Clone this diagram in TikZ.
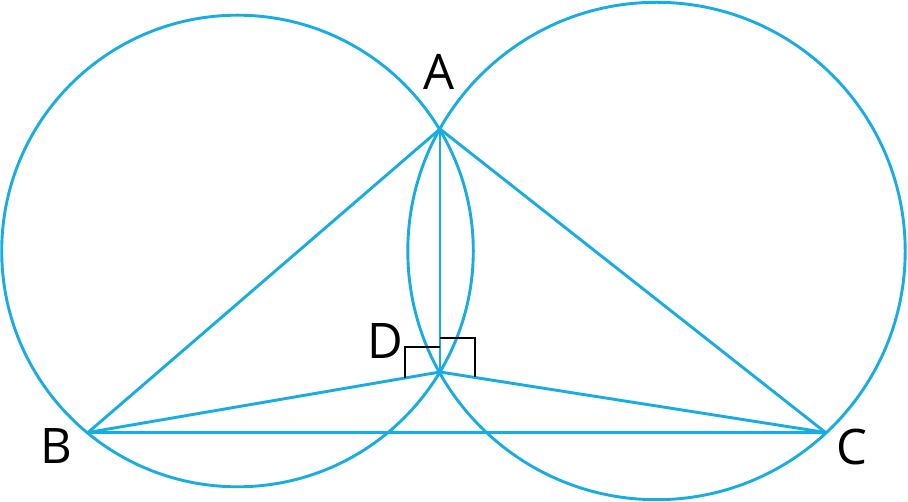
\documentclass[tikz,border=0pt]{standalone}
\usepackage{fontspec}
\setmainfont{Open Sans}
\definecolor{geo}{RGB}{24,172,226}
\begin{document}
\begin{tikzpicture}[x=1pt,y=-1pt,
  geoline/.style={draw=geo,line width=2.9pt},
  rightmark/.style={draw=black,line width=2.8pt,line join=miter},
  ptlabel/.style={font=\fontsize{49}{49}\selectfont,text=black,inner sep=0pt}]
\useasboundingbox (0,0) rectangle (908,502);
% points
\coordinate (A) at (440,129);
\coordinate (B) at (88,432.5);
\coordinate (C) at (825.5,432.5);
\coordinate (D) at (440,372);
\coordinate (O1) at (237.5,251);
\coordinate (O2) at (656.5,251);
% circles
\draw[geoline] (O1) circle[radius=235.8];
\draw[geoline] (O2) circle[radius=248.7];
% segments
\draw[geoline] (A) -- (B);
\draw[geoline] (A) -- (C);
\draw[geoline] (A) -- (D);
\draw[geoline] (D) -- (B);
\draw[geoline] (D) -- (C);
\draw[geoline] (B) -- (C);
% right angle marks
\coordinate (m1) at (405,378);
\coordinate (m2) at (405,347);
\coordinate (m3) at (440,347);
\coordinate (m4) at (475,377.5);
\coordinate (m5) at (475,338);
\coordinate (m6) at (440,338);
\draw[rightmark] (m1) -- (m2) -- (m3);
\draw[rightmark] (m4) -- (m5) -- (m6);
% labels
\node[ptlabel] (lA) at (439,72) {A};
\node[ptlabel] (lB) at (56,446) {B};
\node[ptlabel] (lC) at (852,447) {C};
\node[ptlabel] (lD) at (385,341) {D};
\end{tikzpicture}
\end{document}
